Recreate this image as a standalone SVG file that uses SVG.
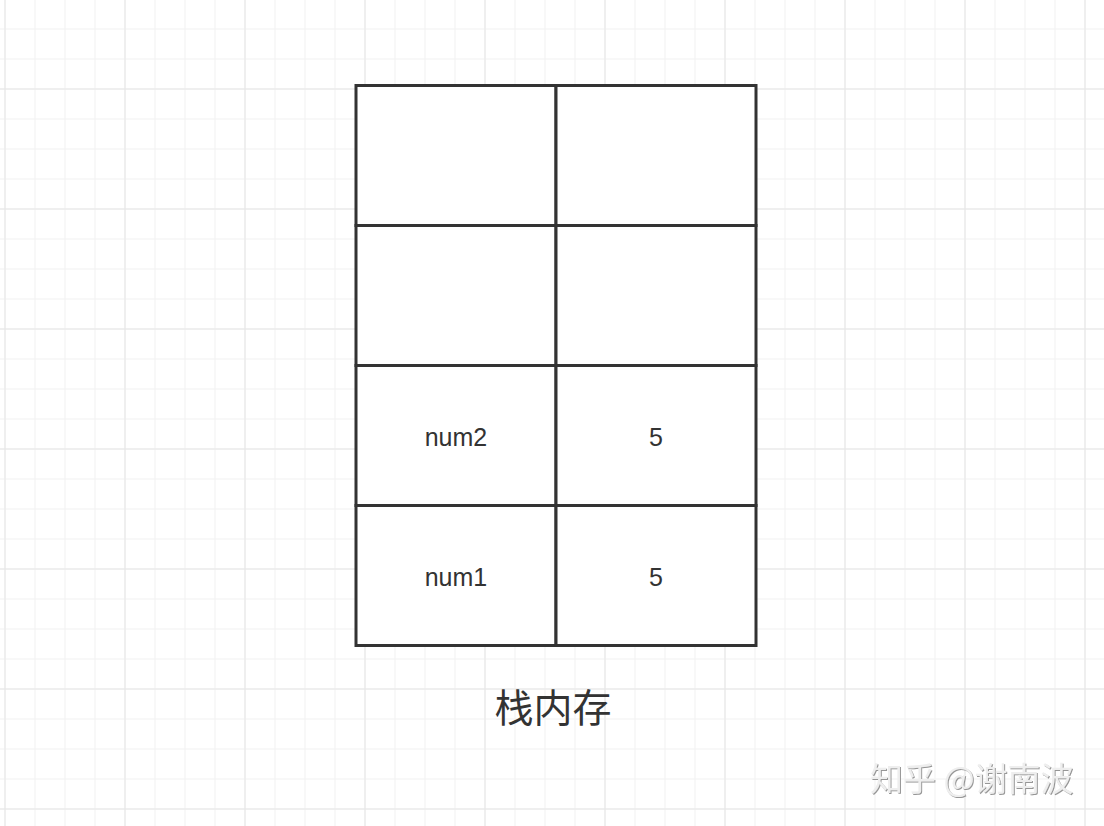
<svg xmlns="http://www.w3.org/2000/svg" width="1104" height="826" viewBox="0 0 1104 826">
<defs>
<pattern id="minor" x="4.5" y="28.5" width="30" height="30" patternUnits="userSpaceOnUse">
<path d="M0 0 V30 M0 0 H30" fill="none" stroke="#f1f1f1" stroke-width="2"/>
</pattern>
<pattern id="major" x="4.5" y="88.5" width="120" height="120" patternUnits="userSpaceOnUse">
<path d="M0 0 V120 M0 0 H120" fill="none" stroke="#e6e6e6" stroke-width="2"/>
</pattern>
<filter id="emboss" x="-5%" y="-20%" width="110%" height="140%">
<feDropShadow dx="1" dy="1" stdDeviation="0.6" flood-color="#8a8a8a" flood-opacity="0.9"/>
</filter>
</defs>
<style>
.cell{fill:#ffffff;stroke:#333333;stroke-width:3}
.lbl{font-family:"Liberation Sans","Noto Sans",Arial,sans-serif;font-size:25px;fill:#333333;text-anchor:middle}
.cap{font-family:"Noto Sans CJK SC","Noto Sans",sans-serif;font-size:39px;fill:#333333;text-anchor:middle}
.wm{font-family:"Noto Sans CJK SC","Noto Sans",sans-serif;font-size:33px;fill:#eeeeee}
</style>
<rect width="1104" height="826" fill="#ffffff"/>
<rect width="1104" height="826" fill="url(#minor)"/>
<rect width="1104" height="826" fill="url(#major)"/>
<g id="table">
<g id="r1c1"><rect class="cell" x="356" y="85.5" width="200" height="140"/></g>
<g id="r1c2"><rect class="cell" x="556" y="85.5" width="200" height="140"/></g>
<g id="r2c1"><rect class="cell" x="356" y="225.5" width="200" height="140"/></g>
<g id="r2c2"><rect class="cell" x="556" y="225.5" width="200" height="140"/></g>
<g id="r3c1"><rect class="cell" x="356" y="365.5" width="200" height="140"/><text class="lbl" x="456" y="446">num2</text></g>
<g id="r3c2"><rect class="cell" x="556" y="365.5" width="200" height="140"/><text class="lbl" x="656" y="446">5</text></g>
<g id="r4c1"><rect class="cell" x="356" y="505.5" width="200" height="140"/><text class="lbl" x="456" y="586">num1</text></g>
<g id="r4c2"><rect class="cell" x="556" y="505.5" width="200" height="140"/><text class="lbl" x="656" y="586">5</text></g>
</g>
<g id="connectors"></g>
<g id="caption"><text class="cap" x="553" y="722">栈内存</text></g>
<g id="watermark"><text class="wm" x="870" y="791" filter="url(#emboss)">知乎 @谢南波</text></g>
</svg>
